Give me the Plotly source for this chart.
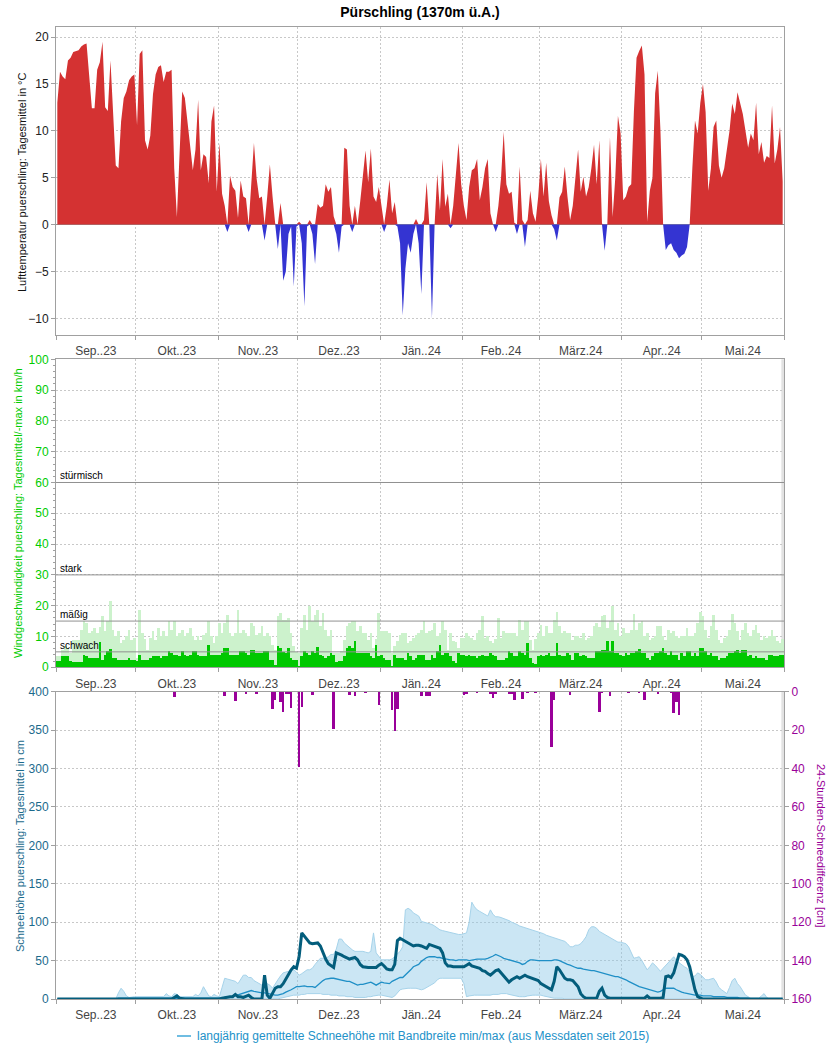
import plotly.graph_objects as go
import pandas as pd

START = "2023-09-01"
END = "2024-06-01"

# daily mean air temperature (°C), 1 Sep 2023 .. 31 May 2024
temp = [
    13.0, 16.3, 15.8, 15.5, 17.5, 17.8, 18.4, 18.5, 18.6, 19.0,
    19.2, 19.3, 16.0, 12.4, 12.4, 16.5, 17.3, 19.5, 12.5, 12.1,
    17.5, 12.0, 6.3, 6.0, 11.0, 13.5, 14.2, 15.4, 15.8, 16.0,
    10.6, 18.2, 18.6, 9.0, 8.0, 9.5, 13.9, 16.0, 16.8, 17.0,
    15.2, 16.3, 16.3, 16.5, 6.0, 0.8, 8.0, 14.2, 13.5, 11.0,
    8.7, 5.8, 8.0, 13.3, 5.8, 7.5, 7.2, 4.4, 11.0, 12.7,
    3.5, 8.7, 3.3, 2.0, -0.8, 5.2, 4.0, 3.6, 0.7, 4.7,
    3.0, 2.8, -0.8, 4.0, 8.7, 4.9, 2.8, 3.0, -1.7, 3.0,
    6.4, 3.0, 0.1, -2.6, 2.3, -6.0, -5.0, -1.0, -0.2, -6.6,
    -0.2, 0.3, -2.0, -8.7, -0.2, 0.5, -1.0, -4.2, 2.2, 1.8,
    2.0, 4.3, 3.5, 4.0, 0.9, -1.0, -3.0, -0.2, 8.2, 8.0,
    2.0, -0.8, 2.0, 0.0, 2.5, 5.0, 7.9, 4.5, 8.1, 3.0,
    2.4, 4.0, 2.0, -0.8, 2.0, 4.8, 1.2, 2.4, -0.2, -2.0,
    -9.7, -4.7, -2.0, -3.0, -1.0, 0.6, -2.0, -7.4, 0.5, 4.5,
    0.0, -10.0, 0.0, 5.4, 1.5, 7.0, 1.9, 3.3, -0.4, 2.0,
    5.0, 8.7, 4.3, 2.0, 0.5, 4.0, 5.8, 6.0, 7.0, 2.6,
    4.0, 6.0, 7.0, 1.2, 0.0, -0.8, 2.0, 5.0, 9.9, 4.3,
    3.3, 3.5, 0.2, -1.0, 6.2, 0.5, -2.4, 0.5, 3.6, 1.2,
    0.3, 3.0, 7.0, 3.0, 6.6, 2.5, 1.0, -0.5, -1.7, 2.9,
    3.5, 6.2, 3.0, 0.5, 2.0, 5.0, 8.0, 3.5, 5.1, 3.0,
    4.0, 6.0, 8.5, 4.3, 9.0, 0.1, -2.8, 0.0, 9.3, 0.8,
    5.0, 11.6, 9.7, 2.6, 3.0, 4.0, 4.3, 12.0, 17.8, 18.5,
    19.1, 16.0, 0.3, 3.6, 5.0, 14.0, 16.4, 10.0, 0.0, -2.7,
    -2.2, -2.0, -2.7, -3.0, -3.6, -3.3, -3.1, -2.4, 0.0, 6.0,
    11.1, 9.7, 13.0, 15.0, 12.0, 3.6, 6.0, 10.4, 11.1, 6.3,
    5.0, 6.0, 8.0, 10.0, 12.9, 11.8, 14.1, 13.0, 11.8, 10.0,
    8.2, 9.7, 9.0, 13.0, 7.5, 8.8, 6.6, 7.3, 7.1, 12.7,
    6.5, 8.0, 10.4, 4.6,
]

# daily mean wind speed (km/h)
wind_mean = [
    1.8, 1.8, 3.7, 3.7, 3.7, 1.8, 1.5, 1.5, 1.5, 1.5,
    4.0, 3.5, 3.0, 2.9, 2.9, 2.9, 8.0, 2.4, 4.0, 5.1,
    5.8, 2.9, 2.9, 2.4, 2.4, 2.4, 2.4, 2.9, 2.4, 2.4,
    1.8, 4.0, 2.4, 2.4, 2.4, 3.0, 3.5, 3.5, 3.5, 2.9,
    3.5, 3.5, 5.1, 4.5, 4.0, 4.0, 3.5, 5.1, 4.0, 3.5,
    4.0, 5.1, 5.1, 4.0, 3.5, 3.5, 3.5, 7.2, 4.0, 4.0,
    4.0, 4.0, 4.5, 6.2, 6.2, 4.0, 4.0, 4.0, 4.0, 5.1,
    5.1, 4.5, 4.0, 5.6, 5.6, 4.5, 4.5, 4.5, 5.1, 5.1,
    2.4, 2.4, 0.4, 6.9, 6.2, 5.0, 4.5, 6.2, 2.9, 2.4,
    2.4, 0.3, 3.5, 5.1, 4.5, 4.0, 5.1, 4.5, 6.5, 4.0,
    3.5, 2.9, 3.5, 4.5, 4.0, 1.5, 1.8, 1.8, 3.5, 6.2,
    6.7, 6.2, 8.3, 4.5, 4.5, 4.5, 4.5, 4.5, 3.5, 2.9,
    7.0, 3.5, 4.0, 3.0, 2.4, 2.4, 0.3, 4.0, 3.0, 3.0,
    2.9, 2.4, 4.5, 3.5, 2.4, 2.9, 4.0, 4.0, 4.0, 2.4,
    2.4, 4.0, 2.9, 5.1, 7.2, 4.0, 4.5, 4.5, 3.5, 1.8,
    1.3, 4.5, 4.0, 4.0, 3.5, 4.0, 3.5, 3.5, 2.9, 3.5,
    4.0, 3.5, 3.5, 4.5, 4.0, 3.5, 2.4, 2.4, 2.4, 2.9,
    5.1, 4.5, 3.5, 3.5, 5.1, 4.5, 4.0, 7.8, 2.9, 1.3,
    0.8, 3.5, 4.0, 3.5, 4.0, 4.5, 3.5, 3.5, 7.8, 4.0,
    3.5, 3.5, 4.5, 4.0, 2.4, 4.5, 4.5, 3.5, 4.0, 3.5,
    2.9, 2.9, 2.9, 5.1, 5.1, 5.6, 5.6, 8.3, 5.1, 8.3,
    4.5, 4.5, 4.0, 3.5, 4.5, 4.0, 4.5, 4.5, 5.1, 5.8,
    4.5, 4.5, 2.9, 2.4, 3.5, 4.5, 4.5, 5.1, 6.2, 4.5,
    4.0, 5.1, 4.0, 4.0, 2.4, 4.5, 3.5, 5.1, 5.1, 3.5,
    4.5, 3.5, 6.2, 6.2, 5.1, 4.0, 4.5, 3.5, 3.5, 2.4,
    2.9, 2.9, 3.5, 4.5, 4.5, 5.1, 5.6, 4.5, 5.6, 5.6,
    3.5, 4.0, 3.0, 3.5, 2.9, 2.9, 2.9, 2.4, 4.0, 4.0,
    3.5, 3.5, 4.0, 4.0,
]

# daily maximum wind speed (km/h)
wind_max = [
    3.5, 3.5, 5.6, 6.7, 6.0, 4.5, 8.9, 8.9, 8.9, 12.0,
    14.8, 14.3, 11.0, 11.6, 12.6, 11.0, 13.0, 16.4, 11.6, 14.8,
    21.3, 12.0, 9.9, 11.6, 7.8, 8.9, 10.0, 12.1, 8.9, 9.4,
    2.9, 18.6, 11.0, 9.0, 5.6, 9.4, 11.6, 8.9, 12.6, 10.0,
    11.6, 9.9, 14.8, 12.1, 14.8, 9.9, 11.0, 12.1, 9.9, 11.0,
    12.6, 10.0, 8.9, 9.9, 8.9, 10.5, 11.0, 14.8, 9.9, 7.8,
    10.0, 14.3, 11.0, 14.3, 17.0, 11.0, 9.9, 11.0, 18.6, 11.0,
    12.1, 11.0, 9.9, 14.3, 13.2, 10.5, 11.0, 13.2, 9.9, 11.0,
    10.0, 7.2, 5.6, 16.4, 17.5, 15.2, 15.2, 15.8, 11.0, 6.7,
    5.0, 4.5, 12.6, 17.0, 12.1, 19.7, 15.0, 17.0, 18.6, 13.2,
    17.5, 12.0, 9.9, 12.1, 4.5, 4.5, 4.5, 5.1, 8.9, 13.2,
    14.3, 14.8, 14.8, 11.6, 13.2, 11.0, 11.0, 8.9, 11.0, 6.2,
    9.0, 17.5, 11.6, 11.6, 11.6, 11.0, 4.5, 6.7, 8.3, 10.5,
    11.0, 11.0, 7.8, 8.3, 9.4, 10.5, 11.0, 12.0, 14.8, 11.0,
    11.6, 12.0, 14.3, 9.9, 11.0, 14.8, 12.0, 5.6, 11.0, 8.3,
    8.0, 6.2, 9.4, 9.4, 11.0, 10.0, 9.4, 8.9, 11.0, 12.0,
    16.4, 9.4, 9.9, 8.3, 7.8, 9.0, 15.8, 9.4, 11.6, 11.0,
    11.0, 11.0, 11.0, 9.9, 15.2, 12.0, 14.8, 14.8, 8.9, 5.6,
    9.0, 11.0, 13.7, 9.9, 13.2, 11.0, 11.0, 15.2, 17.7, 13.2,
    11.0, 11.6, 11.0, 11.0, 8.9, 10.0, 9.9, 9.4, 11.0, 8.9,
    9.5, 9.9, 13.2, 14.3, 13.0, 16.4, 17.0, 12.6, 14.8, 19.7,
    12.0, 14.3, 9.9, 12.6, 11.0, 11.0, 12.1, 17.3, 12.0, 14.3,
    14.8, 9.9, 11.0, 8.9, 9.5, 9.9, 13.2, 13.2, 10.0, 8.9,
    12.1, 11.0, 11.6, 10.0, 9.4, 9.9, 9.9, 12.6, 10.0, 9.9,
    11.0, 14.3, 18.0, 16.4, 12.0, 9.4, 13.2, 17.0, 12.0, 8.9,
    7.8, 9.4, 9.9, 12.0, 17.3, 14.3, 11.6, 8.9, 12.0, 14.3,
    11.0, 9.9, 12.0, 13.7, 11.0, 8.9, 9.9, 9.4, 10.0, 12.1,
    9.9, 8.3, 7.8, 9.0,
]

# daily mean snow depth (cm)
snow = [
    0, 0, 0, 0, 0, 0, 0, 0, 0, 0,
    0, 0, 0, 0, 0, 0, 0, 0, 0, 0,
    0, 0, 0, 0, 0, 0, 0, 0, 0, 0,
    0, 0, 0, 0, 0, 0, 0, 0, 0, 0,
    0, 0, 0, 0, 2, 4, 1, 0, 0, 0,
    0, 0, 0, 0, 0, 0, 0, 0, 0, 0,
    0, 0, 1, 2, 2, 3, 3, 6, 3, 3,
    2, 3, 5, 2, 0, 0, 0, 0, 31, 5,
    1, 8, 14, 16, 16, 20, 27, 32, 38, 42,
    40, 55, 86, 82, 77, 73, 72, 73, 73, 69,
    60, 52, 46, 43, 41, 60, 59, 57, 55, 54,
    52, 53, 54, 51, 45, 42, 41, 41, 41, 41,
    41, 44, 46, 43, 39, 38, 38, 45, 76, 79,
    77, 75, 73, 71, 69, 70, 70, 69, 68, 66,
    71, 70, 69, 68, 66, 60, 47, 43, 43, 42,
    42, 42, 42, 42, 44, 46, 43, 42, 41, 40,
    37, 36, 33, 31, 34, 37, 38, 34, 31, 27,
    22, 25, 27, 29, 27, 29, 31, 29, 28, 27,
    25, 24, 20, 18, 15, 13, 12, 23, 42, 38,
    33, 27, 25, 25, 24, 20, 16, 7, 3, 1,
    1, 1, 1, 1, 10, 14, 5, 2, 1, 1,
    1, 1, 1, 1, 1, 1, 1, 1, 1, 1,
    1, 1, 4, 1, 1, 1, 1, 1, 2, 29,
    30, 28, 34, 47, 58, 57, 55, 51, 42, 27,
    12, 3, 1, 0, 0, 0, 0, 0, 0, 0,
    0, 0, 0, 0, 0, 0, 0, 0, 0, 0,
    0, 0, 0, 0, 0, 0, 0, 0, 0, 0,
    0, 0, 0, 0,
]

# long-term mean snow depth and min/max band (cm)
lt_mean = [
    0, 0, 0, 0, 0, 0, 0, 0, 0, 0,
    0, 0, 0, 0, 0, 0, 0, 0, 0, 0,
    0, 0, 0, 1, 1, 1, 1, 1, 1, 1,
    1, 1, 1, 1, 1, 1, 1, 1, 1, 1,
    1, 1, 1, 1, 1, 1, 1, 1, 1, 1,
    1, 1, 1, 1, 1, 1, 1, 1, 1, 1,
    1, 1, 1, 2, 3, 3, 3, 4, 5, 6,
    7, 9, 10, 11, 10, 9, 8, 8, 8, 7,
    7, 6, 5, 5, 6, 7, 9, 10, 12, 14,
    16, 16, 17, 17, 16, 16, 16, 15, 18, 22,
    24, 26, 27, 27, 27, 26, 25, 25, 24, 23,
    23, 21, 19, 18, 19, 19, 20, 21, 22, 20,
    18, 20, 22, 21, 20, 20, 23, 25, 27, 28,
    28, 31, 34, 38, 42, 44, 45, 49, 52, 54,
    55, 55, 55, 54, 54, 53, 52, 52, 51, 51,
    50, 51, 51, 51, 51, 50, 51, 51, 52, 52,
    52, 52, 53, 54, 56, 58, 57, 55, 53, 52,
    51, 50, 49, 49, 47, 45, 46, 49, 51, 51,
    50, 50, 50, 50, 50, 50, 50, 51, 51, 50,
    48, 46, 45, 44, 42, 41, 40, 40, 39, 38,
    38, 37, 37, 36, 35, 34, 32, 31, 30, 30,
    29, 29, 28, 26, 25, 23, 21, 19, 18, 16,
    15, 14, 13, 12, 11, 10, 9, 10, 12, 14,
    14, 14, 14, 12, 10, 9, 8, 7, 6, 6,
    5, 5, 5, 4, 4, 4, 4, 3, 3, 3,
    3, 3, 2, 2, 2, 2, 2, 1, 1, 1,
    1, 0, 0, 0, 0, 0, 0, 0, 0, 0,
    0, 0, 0, 0,
]

lt_max = [
    0, 0, 0, 0, 0, 0, 0, 0, 0, 0,
    0, 0, 0, 0, 0, 0, 0, 0, 0, 0,
    0, 0, 0, 8, 14, 10, 4, 2, 3, 3,
    3, 3, 3, 3, 3, 3, 3, 3, 3, 3,
    3, 7, 4, 3, 7, 6, 3, 3, 3, 3,
    3, 3, 6, 4, 8, 16, 10, 4, 3, 6,
    4, 3, 15, 27, 26, 25, 25, 23, 20, 25,
    31, 31, 28, 28, 24, 22, 20, 17, 16, 20,
    18, 14, 20, 25, 30, 34, 35, 36, 36, 38,
    35, 31, 33, 35, 38, 38, 40, 45, 49, 53,
    53, 53, 55, 58, 58, 65, 78, 78, 73, 70,
    66, 64, 62, 62, 62, 62, 61, 60, 62, 86,
    60, 55, 51, 51, 51, 51, 52, 55, 58, 62,
    68, 116, 118, 116, 112, 110, 108, 101, 100, 100,
    99, 97, 95, 92, 90, 89, 88, 87, 86, 86,
    85, 84, 84, 85, 86, 100, 126, 120, 116, 114,
    112, 110, 108, 116, 110, 107, 107, 106, 105, 103,
    102, 100, 99, 97, 95, 94, 93, 92, 90, 89,
    88, 87, 86, 85, 83, 82, 81, 80, 79, 78,
    77, 75, 72, 68, 68, 70, 70, 72, 76, 81,
    90, 94, 94, 92, 88, 86, 84, 81, 79, 77,
    76, 74, 74, 73, 72, 68, 60, 53, 54, 55,
    50, 44, 38, 42, 47, 44, 40, 36, 40, 44,
    48, 52, 55, 50, 47, 44, 42, 40, 35, 29,
    30, 34, 32, 28, 25, 25, 26, 27, 22, 15,
    12, 9, 7, 15, 24, 27, 20, 16, 10, 5,
    3, 1, 1, 1, 1, 4, 7, 2, 0, 0,
    0, 0, 0, 0,
]

lt_min = [
    0, 0, 0, 0, 0, 0, 0, 0, 0, 0,
    0, 0, 0, 0, 0, 0, 0, 0, 0, 0,
    0, 0, 0, 0, 0, 0, 0, 0, 0, 0,
    0, 0, 0, 0, 0, 0, 0, 0, 0, 0,
    0, 0, 0, 0, 0, 0, 0, 0, 0, 0,
    0, 0, 0, 0, 0, 0, 0, 0, 0, 0,
    0, 0, 0, 0, 0, 0, 0, 0, 0, 0,
    0, 0, 0, 0, 0, 0, 0, 0, 0, 0,
    0, 0, 0, 0, 1, 2, 3, 3, 4, 5,
    5, 5, 6, 6, 7, 7, 7, 7, 7, 7,
    6, 6, 6, 5, 5, 5, 4, 4, 4, 3,
    3, 3, 2, 2, 2, 2, 2, 3, 3, 4,
    5, 5, 5, 4, 3, 2, 2, 4, 8, 12,
    13, 14, 14, 14, 14, 14, 13, 12, 13, 15,
    16, 18, 21, 25, 27, 27, 27, 27, 27, 27,
    27, 27, 27, 20, 3, 4, 5, 5, 5, 5,
    5, 5, 5, 5, 6, 6, 6, 7, 7, 7,
    6, 5, 4, 4, 3, 3, 3, 4, 5, 5,
    5, 5, 5, 4, 3, 2, 1, 1, 1, 1,
    1, 0, 0, 0, 0, 0, 0, 0, 0, 0,
    0, 0, 0, 0, 0, 0, 0, 0, 0, 0,
    0, 0, 0, 0, 0, 0, 0, 0, 0, 0,
    0, 0, 0, 0, 0, 0, 0, 0, 0, 0,
    0, 0, 0, 0, 0, 0, 0, 0, 0, 0,
    0, 0, 0, 0, 0, 0, 0, 0, 0, 0,
    0, 0, 0, 0, 0, 0, 0, 0, 0, 0,
    0, 0, 0, 0, 0, 0, 0, 0, 0, 0,
    0, 0, 0, 0,
]

# 24-hour snow difference (cm), only days with a bar
snow_diff_dates = [
    "2023-10-15", "2023-11-03", "2023-11-07", "2023-11-11", "2023-11-15",
    "2023-11-21", "2023-11-22", "2023-11-24", "2023-11-25", "2023-11-26",
    "2023-11-27", "2023-11-28", "2023-12-01", "2023-12-02", "2023-12-06",
    "2023-12-14", "2023-12-20", "2023-12-22", "2023-12-26", "2023-12-31",
    "2024-01-05", "2024-01-06", "2024-01-07", "2024-01-16", "2024-01-18",
    "2024-01-19", "2024-02-01", "2024-02-02", "2024-02-06", "2024-02-11",
    "2024-02-12", "2024-02-13", "2024-02-18", "2024-02-19", "2024-02-20",
    "2024-02-23", "2024-02-25", "2024-02-28", "2024-03-05", "2024-03-06",
    "2024-03-12", "2024-03-23", "2024-03-24", "2024-03-27", "2024-04-03",
    "2024-04-07", "2024-04-09", "2024-04-14", "2024-04-19", "2024-04-20",
    "2024-04-21", "2024-04-22",
]
snow_diff_vals = [
    2.6, 2.0, 4.7, 1.2, 0.6,
    8.9, 4.0, 5.0, 10.4, 1.0,
    1.0, 8.3, 38.8, 7.8, 1.7,
    19.5, 1.7, 2.0, 0.3, 6.6,
    9.6, 20.4, 9.0, 2.0, 2.0,
    2.0, 1.5, 1.0, 0.3, 1.2,
    3.0, 1.2, 1.2, 1.2, 4.3,
    3.5, 0.5, 0.5, 28.7, 4.3,
    1.7, 10.4, 0.5, 2.0, 0.5,
    0.5, 4.0, 1.2, 0.3, 10.9,
    5.2, 11.8,
]

month_labels = ["Sep..23", "Okt..23", "Nov..23", "Dez..23", "Jän..24",
                "Feb..24", "März.24", "Apr..24", "Mai.24"]
wind_levels = [5, 15, 30, 60]
wind_level_names = ["schwach", "mäßig", "stark", "stürmisch"]

for name, arr in [("temp", temp), ("wind_mean", wind_mean), ("wind_max", wind_max),
                  ("snow", snow), ("lt_mean", lt_mean), ("lt_max", lt_max), ("lt_min", lt_min)]:
    if len(arr) != 274:
        raise SystemExit(f"{name} has {len(arr)} values")
if len(snow_diff_dates) != len(snow_diff_vals):
    raise SystemExit("snow diff mismatch")

days = pd.date_range(START + " 12:00", periods=len(temp), freq="D")
diff_x = pd.to_datetime(snow_diff_dates) + pd.Timedelta(hours=12)
month_starts = pd.date_range(START, END, freq="MS")
mids = [month_starts[i] + (month_starts[i + 1] - month_starts[i]) / 2 for i in range(len(month_starts) - 1)]

DAY_MS = 86400000
FONT = "Liberation Sans, Arial, sans-serif"
GRID = "#c8c8c8"
AXIS = "#a0a0a0"

# pixel helpers for paper placement (plot area: x 56..784, y 27..999)
def px_x(px):
    return (px - 56) / 728


def px_y(py):
    return (999 - py) / 972


fig = go.Figure()

# --- temperature ---
fig.add_trace(go.Scatter(x=days, y=[v if v > 0 else 0 for v in temp], mode="lines",
                         fill="tozeroy", fillcolor="#d43232",
                         line=dict(color="#d43232", width=0), xaxis="x", yaxis="y",
                         hoverinfo="skip"))
fig.add_trace(go.Scatter(x=days, y=[v if v < 0 else 0 for v in temp], mode="lines",
                         fill="tozeroy", fillcolor="#3434d2",
                         line=dict(color="#3434d2", width=0), xaxis="x", yaxis="y",
                         hoverinfo="skip"))

# --- wind ---
fig.add_trace(go.Bar(x=days, y=wind_max, width=DAY_MS, marker=dict(color="#ccf2cc", line=dict(width=0)),
                     xaxis="x2", yaxis="y2"))
fig.add_trace(go.Bar(x=days, y=wind_mean, width=DAY_MS, marker=dict(color="#00c800", line=dict(width=0)),
                     xaxis="x2", yaxis="y2"))

# --- snow ---
fig.add_trace(go.Scatter(x=days, y=lt_min, mode="lines", line=dict(color="#a6d3ea", width=1),
                         xaxis="x3", yaxis="y3"))
fig.add_trace(go.Scatter(x=days, y=lt_max, mode="lines", line=dict(color="#a6d3ea", width=1),
                         fill="tonexty", fillcolor="rgba(140,200,230,0.45)",
                         xaxis="x3", yaxis="y3"))
fig.add_trace(go.Scatter(x=days, y=lt_mean, mode="lines", line=dict(color="#1f8fc6", width=1.3),
                         xaxis="x3", yaxis="y3"))
fig.add_trace(go.Bar(x=diff_x, y=snow_diff_vals, width=DAY_MS * 0.95,
                     marker=dict(color="#990099", line=dict(width=0)),
                     xaxis="x3", yaxis="y4"))
fig.add_trace(go.Scatter(x=days, y=snow, mode="lines", line=dict(color="#035d7c", width=3),
                         xaxis="x3", yaxis="y3"))


def xaxis(anchor):
    return dict(
        type="date", range=[START, END], anchor=anchor, domain=[0, 1],
        tickmode="array", tickvals=mids, ticktext=month_labels,
        ticks="outside", ticklen=5, tickcolor="rgba(0,0,0,0)",
        showgrid=False, zeroline=False,
        showline=True, linecolor=AXIS, linewidth=1, mirror=True,
        tickfont=dict(size=12, color="#444444"),
        minor=dict(tick0=START, dtick="M1", ticks="outside", ticklen=4, tickcolor=AXIS,
                   showgrid=True, gridcolor=GRID, griddash="2px,2px", gridwidth=1),
    )


def yaxis(domain, rng, dtick, color, **kw):
    d = dict(
        domain=domain, range=rng, dtick=dtick, tick0=0,
        ticks="outside", ticklen=4, tickcolor=AXIS,
        showgrid=True, gridcolor=GRID, griddash="2px,2px", gridwidth=1,
        showline=True, linecolor=AXIS, linewidth=1, mirror=True, zeroline=False,
        tickfont=dict(size=12, color=color),
    )
    d.update(kw)
    return d


fig.update_layout(
    width=840, height=1050,
    margin=dict(l=56, r=56, t=27, b=51),
    plot_bgcolor="white", paper_bgcolor="white",
    font=dict(family=FONT, size=12, color="#333333"),
    showlegend=False, barmode="overlay", bargap=0,
    title=dict(text="<b>Pürschling (1370m ü.A.)</b>", x=0.5, xanchor="center",
               y=1 - 12 / 1050, yanchor="middle", font=dict(size=14, color="black", family=FONT)),
    xaxis=xaxis("y"),
    xaxis2=xaxis("y2"),
    xaxis3=xaxis("y3"),
    yaxis=yaxis([0.6831, 1.0], [-11.78, 21.07], 5, "#222222",
                zeroline=True, zerolinecolor="#909090", zerolinewidth=1),
    yaxis2=yaxis([0.3413, 0.6581], [0, 100], 10, "#00cc00",
                 minor=dict(dtick=2, ticks="outside", ticklen=2, tickcolor=AXIS)),
    yaxis3=yaxis([0.0, 0.3162], [0, 400], 50, "#1b6a8c"),
    yaxis4=dict(overlaying="y3", side="right", anchor="x3", range=[160, 0], dtick=20, tick0=0,
                ticks="outside", ticklen=4, tickcolor=AXIS, showgrid=False, zeroline=False,
                showline=True, linecolor=AXIS, tickfont=dict(size=12, color="#990099")),
)

# axis titles as rotated annotations
axis_titles = [
    ("Lufttemperatur puerschling: Tagesmittel in °C", 22, 183, -90, "#111111"),
    ("Windgeschwindigkeit puerschling: Tagesmittel/-max in km/h", 18, 513, -90, "#00cc00"),
    ("Schneehöhe puerschling: Tagesmittel in cm", 20, 846, -90, "#1b6a8c"),
    ("24-Stunden-Schneedifferenz [cm]", 821, 846, 90, "#990099"),
]
for text, tx, ty, ang, col in axis_titles:
    fig.add_annotation(xref="paper", yref="paper", x=px_x(tx), y=px_y(ty), text=text,
                       textangle=ang, xanchor="center", yanchor="middle", showarrow=False,
                       font=dict(size=11, color=col, family=FONT))

# wind reference levels
for lvl, name in zip(wind_levels, wind_level_names):
    fig.add_shape(type="line", xref="x2 domain", x0=0, x1=1, yref="y2", y0=lvl, y1=lvl,
                  line=dict(color="#909090", width=1))
    fig.add_annotation(xref="x2 domain", x=0.003, yref="y2", y=lvl, text=name,
                       xanchor="left", yanchor="bottom", showarrow=False, yshift=-1,
                       font=dict(size=10, color="black", family=FONT))

# light strip at the right edge of wind and snow panels (last day)
for xr, yr in [("x2", "y2 domain"), ("x3", "y3 domain")]:
    fig.add_shape(type="rect", xref=xr, x0="2024-05-31", x1=END, yref=yr, y0=0, y1=1,
                  fillcolor="#e2e2e2", line=dict(width=0), layer="below")

# legend
fig.add_shape(type="line", xref="paper", yref="paper",
              x0=px_x(177), x1=px_x(191), y0=px_y(1036), y1=px_y(1036),
              line=dict(color="#6fbde2", width=2))
fig.add_annotation(xref="paper", yref="paper", x=px_x(195), y=px_y(1036),
                   xanchor="left", yanchor="middle", showarrow=False,
                   text="langjährig gemittelte Schneehöhe mit Bandbreite min/max (aus Messdaten seit 2015)",
                   font=dict(size=12, color="#2291c8", family=FONT))

fig.write_html("out.html")
